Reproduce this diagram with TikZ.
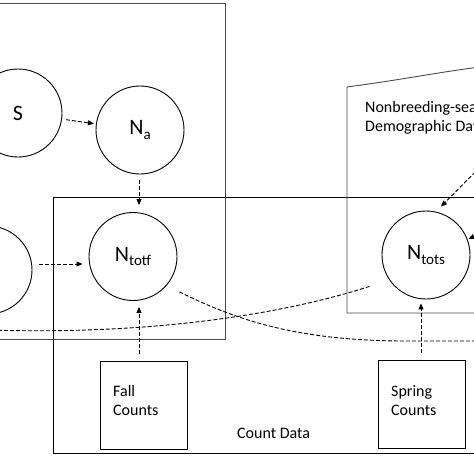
\documentclass[tikz,border=0pt]{standalone}
\usepackage{fontspec}
\setmainfont{Carlito}
\usetikzlibrary{arrows.meta}
\newcommand{\sbs}[1]{\raisebox{-4.5pt}{\fontsize{15}{15}\selectfont #1}}
\begin{document}
\begin{tikzpicture}[x=1pt,y=-1pt,
  var/.style={circle,draw,line width=0.9pt,minimum size=88pt,inner sep=0pt,font=\fontsize{22}{22}\selectfont},
  datbox/.style={draw,line width=1pt,minimum width=87pt,minimum height=88pt,inner sep=0pt},
  dashln/.style={dash pattern=on 4pt off 2pt,line width=0.9pt},
  dep/.style={dashln,-{Triangle[length=6pt,width=5pt]}},
  lbl/.style={font=\fontsize{16}{19.5}\selectfont,inner sep=0pt,anchor=base west},
  platebox/.style={draw=black!70,line width=0.9pt}]
\useasboundingbox (0,0) rectangle (474,474);
\clip (0,0) rectangle (474,474);
\fill[white] (0,0) rectangle (474,474);

% plates
\draw[platebox] (-5,3) -- (225,3) -- (225,339) -- (-5,339);
\draw[line width=0.9pt] (53,197) rectangle (480,453);
\draw[platebox] (480,313) -- (347,313) -- (347,87) .. controls (400,80) and (440,72) .. (480,67);

% nodes
\node[var] (S) at (18,113) {S};
\node[var] (Na) at (140,130) {N\sbs{a}};
\node[var] (L) at (-12,270) {};
\node[var] (Ntotf) at (133,256.5) {N\sbs{totf}};
\node[var] (Ntots) at (426,255) {N\sbs{tots}};
\node[datbox] (Fall) at (143.5,405) {};
\node[datbox] (Spring) at (421.5,404.5) {};

% labels
\node[lbl] (fallA) at (113,396) {Fall};
\node[lbl] (fallB) at (113,415) {Counts};
\node[lbl] (springA) at (391,396) {Spring};
\node[lbl] (springB) at (391,415) {Counts};
\node[lbl] (cd) at (237,438) {Count Data};
\node[lbl] (nbA) at (365,112) {Nonbreeding-season};
\node[lbl] (nbB) at (365,131) {Demographic Data};

% off-picture sources
\coordinate (nbsrc) at (488,159);
\coordinate (rsrc) at (492,228);
\coordinate (rend) at (490,341);
\coordinate (lend) at (-12,330);

% connectors
\draw[dep,shorten <=4pt,shorten >=2pt] (S) -- (Na);
\draw[dep,shorten <=6pt,shorten >=7pt] ([xshift=-1pt]Na.south) -- ([xshift=-1pt]Na.south |- Ntotf.north);
\draw[dep,shorten <=7pt,shorten >=6pt] ([yshift=6pt]L.east) -- ([yshift=6pt]L.east -| Ntotf.west);
\draw[dep,shorten <=7pt,shorten >=6pt] ([xshift=-4.5pt]Fall.north) -- ([xshift=-4.5pt]Fall.north |- Ntotf.south);
\draw[dep,shorten <=7pt,shorten >=4pt] ([xshift=-0.5pt]Spring.north) -- ([xshift=-0.5pt]Spring.north |- Ntots.south);
\draw[dep] (nbsrc) -- ([shift={(15pt,4pt)}]Ntots.north);
\draw[dep] (rsrc) -- ([shift={(-2pt,16pt)}]Ntots.east);
\draw[dashln] ([shift={(15pt,-4pt)}]Ntotf.south east) .. controls (240,322) and (300,340) .. (400,341) -- (rend);
\draw[dashln] ([xshift=-25pt]Ntots.south west) .. controls (280,315) and (150,335) .. (lend);
\end{tikzpicture}
\end{document}
